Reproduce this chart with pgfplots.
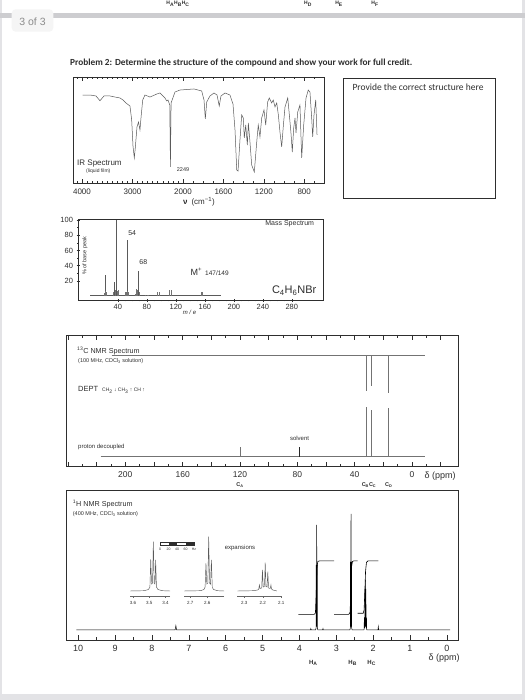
\documentclass[border=0pt]{standalone}
\usepackage{pgfplots}
\pgfplotsset{compat=1.18}
\usepackage{fontspec}
\setmainfont{Liberation Sans}
\newfontfamily\calfont{Carlito}
\definecolor{bgc}{HTML}{E3E3E6}
\definecolor{band}{HTML}{CDCDD0}
\definecolor{ink}{HTML}{2E2E2E}
\definecolor{spec}{HTML}{5A5A5A}
\newcommand\fs[1]{\fontsize{#1}{#1}\selectfont}
\pgfplotsset{
  base/.style={scale only axis, anchor=south west,
    axis line style={ink, line width=0.6pt},
    every tick/.style={ink, line width=0.5pt},
    major tick length=4pt, minor tick length=2pt,
    /pgf/number format/assume math mode=true,
    /pgf/number format/1000 sep={},
    tick label style={text=ink}},
}
\begin{document}
\begin{tikzpicture}[every node/.append style={text=ink}]
\useasboundingbox (0,0) rectangle (525pt,700pt);
\begin{scope}[shift={(0pt,700pt)},x=1pt,y=-1pt]
  \fill[bgc] (0,0) rectangle (525,700);
  \fill[band] (0,13) rectangle (525,18.5);
  \fill[white] (2,0) rectangle (522,13);
  \fill[white] (2,18.5) rectangle (522,694);
\end{scope}

% ---------------- IR spectrum ----------------
\begin{axis}[base, at={(73pt,517pt)}, width=251pt, height=106pt,
  xmin=-89, xmax=2396, ymin=0, ymax=100,
  x filter/.expression={x>=2000 ? (4000-x)/2 : 3000-x},
  xtick={0,500,1000,1400,1800,2200}, xticklabels={4000,3000,2000,1600,1200,800},
  minor xtick={-50,50,100,150,200,250,300,350,400,450,550,600,650,700,750,800,850,900,950,1100,1200,1300,1500,1600,1700,1900,2000,2100,2300},
  ytick=\empty, tick align=inside, xtick pos=both,
  xticklabel style={font=\fs{8}, yshift=-2pt}]
\addplot[spec, line width=0.5pt] coordinates {
(3986,83.0)(3842,83.0)(3723,82.1)(3644,77.6)(3564,82.1)(3446,82.1)(3347,81.1)(3248,80.2)
(3188,78.3)(3129,75.5)(3050,72.6)(3016,59.4)(2990,34.9)(2964,23.6)(2945,33.0)(2911,52.8)
(2881,57.5)(2852,50.0)(2832,61.3)(2798,78.3)(2753,83.0)(2654,81.1)(2515,84.0)(2456,84.9)
(2357,80.2)(2323,77.4)(2297,78.3)(2262,73.6)(2249,15.1)(2236,75.5)(2159,85.8)(2060,87.7)
(1891,88.7)(1815,86.8)(1792,78.3)(1779,60.4)(1765,76.4)(1733,82.1)(1693,84.9)(1663,83.0)
(1641,72.6)(1624,82.1)(1584,84.9)(1535,83.0)(1505,74.5)(1485,50.0)(1468,12.3)(1455,11.3)
(1436,40.6)(1419,64.2)(1403,61.3)(1393,42.5)(1379,54.7)(1363,35.8)(1353,56.6)(1337,38.7)
(1320,17.0)(1294,10.4)(1270,38.7)(1255,54.7)(1238,43.4)(1221,61.3)(1198,68.9)(1181,54.7)
(1162,76.4)(1146,80.2)(1122,75.5)(1106,78.3)(1089,71.7)(1072,75.5)(1056,64.2)(1040,48.1)
(1023,34.0)(1006,54.7)(990,71.7)(963,80.2)(947,64.2)(931,47.2)(918,29.2)(904,51.9)
(891,61.3)(881,47.2)(864,67.0)(842,73.6)(825,23.6)(805,54.7)(782,80.2)(760,87.7)
(743,85.8)(726,61.3)(716,43.4)(703,64.2)(686,78.3)(673,45.3)};
\end{axis}

% ---------------- Mass spectrum ----------------
\begin{axis}[base, at={(78pt,399.3pt)}, width=245pt, height=81.4pt,
  xmin=-15, xmax=323, ymin=-6, ymax=101,
  xtick={40,80,...,280}, minor x tick num=3,
  ytick={20,40,...,100}, minor y tick num=1,
  tick align=center, xtick pos=left, ytick pos=left,
  major tick length=3pt, minor tick length=1.5pt,
  tick label style={font=\fs{7.5}}, xticklabel style={yshift=1.5pt}]
\addplot[spec, line width=0.5pt] coordinates {(1.8,0.8)(182,0.8)};
\addplot[ycomb, spec, line width=0.6pt] coordinates {(22.5,28)(35.4,19)(38.1,100)(52.4,74)(67.5,33)};
\addplot[ycomb, black!55, line width=0.5pt] coordinates {(21,4)(22,7)(24,6)(33,3)(34,6)(36,8)(37,8)(39,7)(40,8)(50,5)(51,6)(53,7)(55,5)(64,3)(65,5)(66,9)(67,8)(69,5)(78,2)(80,2)(82,2)(95,5)(97,5)(111,8)(113,8)(155,6)(157,6)};
\end{axis}

% ---------------- 13C NMR ----------------
\begin{axis}[base, at={(66pt,233.3pt)}, width=392.3pt, height=131.7pt,
  x dir=reverse, xmin=-32.3, xmax=241.4, ymin=0, ymax=100,
  xtick={-20,0,...,240}, xticklabels={,0,,40,,80,,120,,160,,200,,},
  minor x tick num=1, ytick=\empty, tick align=inside, xtick pos=both,
  major tick length=5pt, minor tick length=3pt,
  xticklabel style={font=\fs{8.5}, yshift=-1.5pt}]
\addplot[black!55, line width=0.6pt] coordinates {(209.6,84.3)(-9.1,84.3)};
\addplot[black!55, line width=0.7pt] coordinates {(31.6,84.3)(31.6,57.5)};
\addplot[black!55, line width=0.7pt] coordinates {(28.6,84.3)(28.6,61.5)};
\addplot[black!55, line width=0.7pt] coordinates {(16.5,84.3)(16.5,55.7)};
\addplot[black!55, line width=0.6pt] coordinates {(217.2,7.6)(-9.1,7.6)};
\addplot[black!55, line width=0.7pt] coordinates {(31.6,7.6)(31.6,45.6)};
\addplot[black!55, line width=0.7pt] coordinates {(28.6,7.6)(28.6,43.0)};
\addplot[black!55, line width=0.7pt] coordinates {(16.5,7.6)(16.5,44.3)};
\addplot[black!55, line width=0.7pt] coordinates {(120,7.6)(120,14.7)};
\addplot[black!85, line width=1.6pt] coordinates {(78.6,7.6)(78.6,14.7)};
\end{axis}

% ---------------- 1H NMR ----------------
\begin{axis}[base, at={(66pt,60pt)}, width=392.3pt, height=150pt,
  x dir=reverse, xmin=-0.31, xmax=10.33, ymin=0, ymax=100,
  xtick={0,...,10}, minor x tick num=1, ytick=\empty, tick align=inside, xtick pos=left,
  major tick length=5pt, minor tick length=3pt,
  xticklabel style={font=\fs{9}, yshift=-1.5pt}]
\addplot[black, line width=0.5pt] coordinates {
(10.05,6.7)(7.37,6.7)(7.35,9.6)(7.33,6.7)
(3.70,6.7)(3.69,7.6)(3.68,6.7)
(3.56,6.7)(3.548,8)(3.545,50)(3.541,9)(3.534,9)(3.53,76.7)(3.526,9)(3.519,9)(3.515,50)(3.512,8)(3.50,6.7)
(3.37,6.7)(3.36,7.6)(3.35,6.7)
(2.63,6.7)(2.618,8)(2.615,52)(2.611,9)(2.604,9)(2.60,84)(2.596,9)(2.589,9)(2.585,52)(2.582,8)(2.57,6.7)
(2.25,6.7)(2.242,7.5)(2.24,15)(2.236,8)(2.228,8)(2.225,34)(2.221,9)(2.214,9)(2.21,40)(2.206,9)(2.199,9)(2.195,34)(2.191,8)(2.183,8)(2.18,15)(2.178,7.5)(2.17,6.7)
(1.87,6.7)(1.86,8.9)(1.85,6.7)(-0.09,6.7)};
\addplot[black, line width=0.6pt] coordinates {(4.03,17.1)(3.60,17.1)(3.565,18)(3.545,30)(3.525,48)(3.50,52.3)(3.46,52.7)(3.06,52.7)};
\addplot[black, line width=0.6pt] coordinates {(3.06,17.1)(2.66,17.1)(2.625,18.5)(2.605,32)(2.585,49)(2.56,52.3)(2.53,52.7)(2.42,52.7)};
\addplot[black, line width=0.6pt] coordinates {(2.42,17.8)(2.27,17.8)(2.245,20)(2.225,32)(2.205,46)(2.18,51.8)(2.14,52.7)(1.86,52.7)};
\end{axis}

% ---------------- expansions ----------------
\begin{axis}[base, at={(130pt,104pt)}, width=40pt, height=60pt,
  x dir=reverse, xmin=3.373, xmax=3.618, ymin=0, ymax=60,
  axis x line*=bottom, hide y axis, axis line style={black!60, line width=0.4pt},
  xtick={3.4,3.5,3.6}, xticklabels={3.4,3.5,3.6}, minor x tick num=4,
  tick align=outside, major tick length=2pt, minor tick length=1pt,
  every tick/.style={black!60, line width=0.3pt},
  xticklabel style={font=\fs{4.5}}]
\addplot[spec, line width=0.45pt] coordinates {(3.618,5)(3.53,5.3)(3.505,6.5)(3.496,9)(3.491,36.7)(3.486,12)(3.480,13)(3.475,54.3)(3.470,13)(3.465,12)(3.461,36)(3.456,9)(3.447,6.5)(3.42,5.3)(3.373,5)};
\end{axis}
\begin{axis}[base, at={(184pt,104pt)}, width=40pt, height=60pt,
  x dir=reverse, xmin=2.502, xmax=2.737, ymin=0, ymax=60,
  axis x line*=bottom, hide y axis, axis line style={black!60, line width=0.4pt},
  xtick={2.5,2.6,2.7}, xticklabels={2.5,2.6,2.7}, minor x tick num=4,
  tick align=outside, major tick length=2pt, minor tick length=1pt,
  every tick/.style={black!60, line width=0.3pt},
  xticklabel style={font=\fs{4.5}}]
\addplot[spec, line width=0.45pt] coordinates {(2.737,5)(2.64,5.3)(2.62,6.5)(2.613,9)(2.608,32.7)(2.603,12)(2.597,13)(2.592,59.3)(2.587,13)(2.581,12)(2.576,36)(2.571,9)(2.564,6.5)(2.54,5.3)(2.502,5)};
\end{axis}
\begin{axis}[base, at={(237.3pt,104pt)}, width=44pt, height=60pt,
  x dir=reverse, xmin=2.10, xmax=2.338, ymin=0, ymax=60,
  axis x line*=bottom, hide y axis, axis line style={black!60, line width=0.4pt},
  xtick={2.1,2.2,2.3}, xticklabels={2.1,2.2,2.3}, minor x tick num=4,
  tick align=outside, major tick length=2pt, minor tick length=1pt,
  every tick/.style={black!60, line width=0.3pt},
  xticklabel style={font=\fs{4.5}}]
\addplot[spec, line width=0.45pt] coordinates {(2.338,5)(2.25,5.3)(2.228,6)(2.222,7)(2.2185,11)(2.215,7.5)(2.206,8)(2.202,26)(2.198,9)(2.191,9.5)(2.187,33.3)(2.183,9.5)(2.177,9)(2.173,24.3)(2.169,8)(2.160,7.5)(2.156,11)(2.153,7)(2.146,6)(2.13,5.3)(2.124,5)};
\end{axis}

% ---------------- annotations ----------------
\begin{scope}[shift={(0pt,700pt)},x=1pt,y=-1pt]
  % mass spectrum frame
  \draw[ink, line width=0.6pt] (78,219.3) rectangle (323,300.7);
  % previous page remnants
  \node[font=\fs{5}\bfseries] at (178,3.5) {H\textsubscript{A}H\textsubscript{B}H\textsubscript{C}};
  \node[font=\fs{5}\bfseries] at (308,3.5) {H\textsubscript{D}};
  \node[font=\fs{5}\bfseries] at (339,3.5) {H\textsubscript{E}};
  \node[font=\fs{5}\bfseries] at (375,3.5) {H\textsubscript{F}};
  % page pill
  \fill[black!4, rounded corners=4pt] (11.7,9.3) rectangle (53.3,31.7);
  \node[font=\fs{10.5}, text=black!45] at (32.5,21.5) {3 of 3};
  % problem statement
  \node[anchor=west, inner sep=0, font=\calfont\bfseries\fs{9.3}] at (70,63) {Problem 2: Determine the structure of the compound and show your work for full credit.};
  \draw[ink, line width=0.5pt] (343,78) rectangle (495,198);
  \node[font=\calfont\fs{9.5}] at (418,87.5) {Provide the correct structure here};
  % IR
  \node[anchor=west, inner sep=0, font=\fs{8}] at (77,163.7) {IR Spectrum};
  \node[anchor=west, inner sep=0, font=\fs{5}] at (86,171.5) {(liquid film)};
  \node[font=\fs{5.5}] at (183,170) {2249};
  \node[font=\fs{8}] at (199,201.7) {\textbf{ν}\hspace{4pt}(cm\textsuperscript{−1})};
  % MS
  \node[font=\fs{7}] at (289.7,223.3) {Mass Spectrum};
  \node[font=\fs{7}] at (132.2,233.3) {54};
  \node[font=\fs{7}] at (143.3,262.3) {68};
  \node[anchor=west, inner sep=0] at (190.5,271.7) {\fs{9}M\textsuperscript{+}\hspace{3pt}\fs{6.5}147/149};
  \node[font=\fs{11}] at (294.2,291) {C\textsubscript{4}H\textsubscript{6}NBr};
  \node[font=\fs{5.5}, rotate=90] at (85,255.8) {\% of base peak};
  \node[font=\fs{6}\itshape] at (189.5,312) {m / e};
  % 13C
  \node[anchor=west, inner sep=0, font=\fs{7.2}] at (77,350.7) {\textsuperscript{13}C NMR Spectrum};
  \node[anchor=west, inner sep=0, font=\fs{5.5}] at (78,360.7) {(100 MHz, CDCl\textsubscript{3} solution)};
  \node[anchor=west, inner sep=0, font=\fs{7.5}] at (78,390) {DEPT\hspace{4pt}{\fs{5}CH\textsubscript{2} ↓ CH\textsubscript{3} ↑ CH ↑}};
  \node[anchor=west, inner sep=0, font=\fs{6}] at (78,447.3) {proton decoupled};
  \node[font=\fs{6}] at (299.5,438.3) {solvent};
  \node[font=\fs{9}] at (440,475.7) {δ (ppm)};
  \node[font=\fs{5.5}\bfseries] at (240,485.5) {C\textsubscript{A}};
  \node[font=\fs{5.5}\bfseries] at (369,485.5) {C\textsubscript{B}C\textsubscript{C}};
  \node[font=\fs{5.5}\bfseries] at (388.8,485.5) {C\textsubscript{D}};
  % 1H
  \node[anchor=west, inner sep=0, font=\fs{7.2}] at (72.7,504) {\textsuperscript{1}H NMR Spectrum};
  \node[anchor=west, inner sep=0, font=\fs{5.5}] at (72.7,514) {(400 MHz, CDCl\textsubscript{3} solution)};
  \node[font=\fs{6}] at (240,547.5) {expansions};
  \node[font=\fs{9}] at (444,658.5) {δ (ppm)};
  \node[font=\fs{6}\bfseries] at (313.3,662.7) {H\textsubscript{A}};
  \node[font=\fs{6}\bfseries] at (352.7,662.7) {H\textsubscript{B}};
  \node[font=\fs{6}\bfseries] at (371.7,662.7) {H\textsubscript{C}};
  % scale bar
  \draw[ink, line width=0.3pt] (160,542.5) rectangle (194,545.5);
  \fill[ink] (168.5,542.5) rectangle (177,545.5);
  \fill[ink] (185.5,542.5) rectangle (194,545.5);
  \node[font=\fs{3.5}, inner sep=0] at (160,549) {0};
  \node[font=\fs{3.5}, inner sep=0] at (168.5,549) {20};
  \node[font=\fs{3.5}, inner sep=0] at (177,549) {40};
  \node[font=\fs{3.5}, inner sep=0] at (185.5,549) {60};
  \node[font=\fs{3.5}, inner sep=0] at (194,549) {Hz};
\end{scope}
\end{tikzpicture}
\end{document}
